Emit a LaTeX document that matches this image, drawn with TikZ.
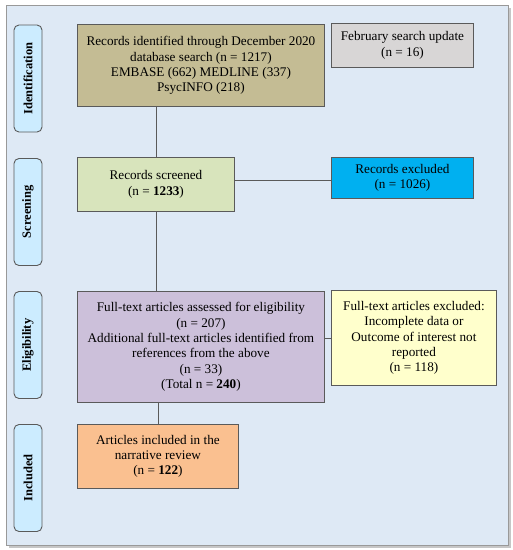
\documentclass[tikz,border=0pt]{standalone}
\usepackage{fontspec}
\setmainfont{Liberation Serif}
\usepackage{xcolor}
\definecolor{panelbg}{RGB}{222,233,245}
\definecolor{edgegray}{RGB}{90,90,90}
\definecolor{tanbox}{RGB}{196,188,148}
\definecolor{greybox}{RGB}{216,214,214}
\definecolor{greenbox}{RGB}{216,228,188}
\definecolor{cyanbox}{RGB}{0,176,240}
\definecolor{lilacbox}{RGB}{204,192,218}
\definecolor{yellowbox}{RGB}{255,255,204}
\definecolor{orangebox}{RGB}{250,192,144}
\definecolor{stagefill}{RGB}{204,236,255}
\usepackage{tikz}
\usetikzlibrary{positioning, calc}
\tikzset{
  flowbox/.style={
    rectangle, draw=edgegray, line width=0.9pt, anchor=north west,
    align=center, inner sep=2pt,
    font=\fontsize{13.2}{15.3}\selectfont},
  stage/.style={
    rectangle, draw=edgegray, fill=stagefill, line width=0.9pt,
    rounded corners=5pt, rotate=90, minimum width=107pt,
    minimum height=28pt, inner sep=0pt,
    font=\fontsize{12.5}{15}\selectfont\bfseries},
  link/.style={draw=edgegray, line width=0.9pt},
}

\begin{document}
\begin{tikzpicture}[x=1pt, y=-1pt]
  \useasboundingbox (0,0) rectangle (513,550);
  \fill[gray!45] (9,8) rectangle (511,548);
  \draw[fill=panelbg, draw=gray!80, line width=0.9pt] (6,5) rectangle (508,545);

  \node[stage] (sid) at (28,78.5) {Identification};
  \node[stage] (ssc) at (28,212) {Screening};
  \node[stage] (sel) at (28,345) {Eligibility};
  \node[stage] (sin) at (28,478) {Included};

  \node[flowbox, fill=tanbox, minimum width=247pt, minimum height=82pt]
    (ident) at (77,24)
    {Records identified through December 2020\\
     database search (n = 1217)\\
     EMBASE (662) MEDLINE (337)\\
     PsycINFO (218)};
  \node[flowbox, fill=greybox, minimum width=142pt, minimum height=44pt]
    (febup) at (331,23)
    {February search update\\(n = 16)};
  \node[flowbox, fill=greenbox, minimum width=157pt, minimum height=54pt]
    (screen) at (77,157)
    {Records screened\\(n = \textbf{1233})};
  \node[flowbox, fill=cyanbox, minimum width=142pt, minimum height=41pt]
    (excl) at (331,157)
    {Records excluded\\(n = 1026)};
  \node[flowbox, fill=lilacbox, minimum width=247pt, minimum height=111pt]
    (fulltext) at (77,291)
    {Full-text articles assessed for eligibility\\
     (n = 207)\\
     Additional full-text articles identified from\\
     references from the above\\
     (n = 33)\\
     (Total n = \textbf{240})};
  \node[flowbox, fill=yellowbox, minimum width=165pt, minimum height=95pt]
    (ftexcl) at (331,290)
    {Full-text articles excluded:\\
     Incomplete data or\\
     Outcome of interest not\\
     reported\\
     (n = 118)};
  \node[flowbox, fill=orangebox, minimum width=161pt, minimum height=64pt]
    (incl) at (77,424)
    {Articles included in the\\narrative review\\(n = \textbf{122})};

  \draw[link] (screen.north) -- (screen.north |- ident.south);
  \draw[link] (screen.south) -- (screen.south |- fulltext.north);
  \draw[link] (incl.north) -- (incl.north |- fulltext.south);
  \draw[link] ($(screen.east)+(0,-4)$) -- ($(screen.east -| excl.west)+(0,-4)$);
  \draw[link] (ftexcl.west) -- (ftexcl.west -| fulltext.east);
\end{tikzpicture}
\end{document}
